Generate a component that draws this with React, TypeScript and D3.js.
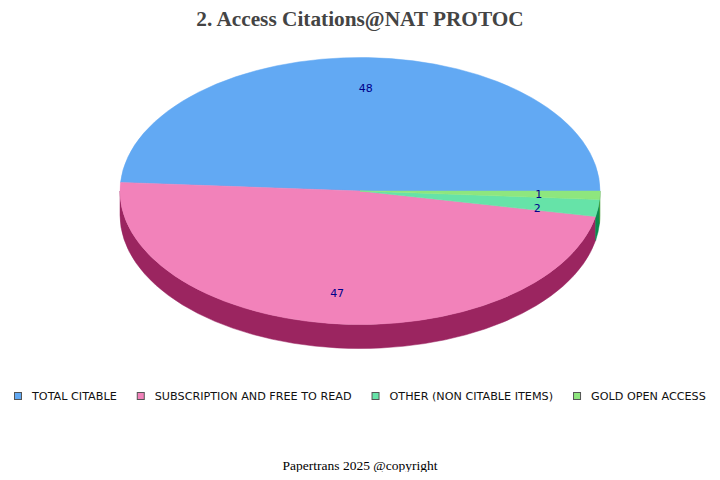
import React, { useEffect, useRef } from 'react';
import * as d3 from 'd3';

const categories = ['TOTAL CITABLE', 'SUBSCRIPTION AND FREE TO READ', 'OTHER (NON CITABLE ITEMS)', 'GOLD OPEN ACCESS'];
const values = [48, 47, 2, 1];
const topColors = ['#62a9f3', '#f282ba', '#66e3a8', '#8ee67e'];
const sideColors = ['#2e6fb5', '#9b2560', '#0b8a4e', '#3f9a30'];

const W = 720;
const H = 480;

const App: React.FC = () => {
  const ref = useRef<SVGGElement | null>(null);

  useEffect(() => {
    const root = d3.select(ref.current);
    root.selectAll('*').remove();

    const cx = 360, cy = 191, rx = 240, ry = 133.5, depth = 24;
    const px = (t: number) => cx + rx * Math.cos(t);
    const py = (t: number) => cy + ry * Math.sin(t);

    // d3 angles run clockwise from 12 o'clock; turn into screen angle from east
    const pie = d3.pie<number>().sort(null).startAngle(Math.PI / 2).endAngle(Math.PI / 2 - 2 * Math.PI);
    const arcs = pie(values).map((d, i) => {
      const a = d.startAngle - Math.PI / 2;
      const b = d.endAngle - Math.PI / 2;
      return { i, t0: Math.min(a, b), t1: Math.max(a, b), value: d.data };
    });

    const g = root.append('g');

    // side walls (front half only)
    const walls: { i: number; d: string }[] = [];
    arcs.forEach((s) => {
      for (let k = -1; k <= 0; k++) {
        const lo = Math.max(s.t0, k * 2 * Math.PI);
        const hi = Math.min(s.t1, k * 2 * Math.PI + Math.PI);
        if (hi > lo) {
          walls.push({
            i: s.i,
            d: `M${px(lo)},${py(lo)} A${rx},${ry} 0 0 1 ${px(hi)},${py(hi)} L${px(hi)},${py(hi) + depth} A${rx},${ry} 0 0 0 ${px(lo)},${py(lo) + depth} Z`,
          });
        }
      }
    });
    g.selectAll('path.wall')
      .data(walls)
      .enter().append('path')
      .attr('class', 'wall')
      .attr('d', (d) => d.d)
      .attr('fill', (d) => sideColors[d.i])
      .attr('stroke', (d) => sideColors[d.i])
      .attr('stroke-width', 0.5);

    // top faces
    g.selectAll('path.top')
      .data(arcs)
      .enter().append('path')
      .attr('class', 'top')
      .attr('d', (s) => {
        const large = s.t1 - s.t0 > Math.PI ? 1 : 0;
        return `M${cx},${cy} L${px(s.t0)},${py(s.t0)} A${rx},${ry} 0 ${large} 1 ${px(s.t1)},${py(s.t1)} Z`;
      })
      .attr('fill', (s) => topColors[s.i])
      .attr('stroke', (s) => topColors[s.i])
      .attr('stroke-width', 0.5);

    // value labels, with a simple push-apart for the thin slices
    const labels = arcs.map((s) => {
      const m = (s.t0 + s.t1) / 2;
      return { s, x: cx + rx * 0.745 * Math.cos(m), y: cy + ry * 0.77 * Math.sin(m) + 4 };
    });
    const right = labels.filter((l) => l.x > cx).sort((a, b) => a.y - b.y);
    for (let k = 1; k < right.length; k++) {
      if (right[k].y - right[k - 1].y < 14) right[k].y = right[k - 1].y + 14;
    }
    g.selectAll('text.val')
      .data(labels)
      .enter().append('text')
      .attr('class', 'val')
      .attr('x', (l) => l.x)
      .attr('y', (l) => l.y)
      .attr('text-anchor', 'middle')
      .attr('font-family', 'DejaVu Sans, sans-serif')
      .attr('font-size', 11)
      .attr('fill', '#00008b')
      .text((l) => l.s.value);

    // legend
    const leg = root.append('g');
    let x = 14;
    categories.forEach((c, i) => {
      leg.append('rect')
        .attr('x', x + 0.5).attr('y', 392.5)
        .attr('width', 7).attr('height', 7)
        .attr('fill', topColors[i])
        .attr('stroke', '#555').attr('stroke-width', 1);
      const t = leg.append('text')
        .attr('x', x + 18).attr('y', 400)
        .attr('font-family', 'DejaVu Sans, sans-serif')
        .attr('font-size', 11.2)
        .attr('fill', '#111')
        .text(c);
      const w = (t.node() as SVGTextElement).getComputedTextLength();
      x += 18 + w + 20;
    });
  }, []);

  return (
    <svg width={W} height={H} style={{ display: 'block', margin: '-8px', background: '#fff' }}>
      <text x={360} y={26} textAnchor="middle" fontFamily="'Liberation Serif', 'Times New Roman', serif" fontWeight="bold" fontSize={21.3} fill="#444">
        2. Access Citations@NAT PROTOC
      </text>
      <g ref={ref} />
      <text x={360} y={470} textAnchor="middle" fontFamily="'Liberation Serif', 'Times New Roman', serif" fontSize={13.5} fill="#000">
        Papertrans 2025 @copyright
      </text>
    </svg>
  );
};

export default App;
